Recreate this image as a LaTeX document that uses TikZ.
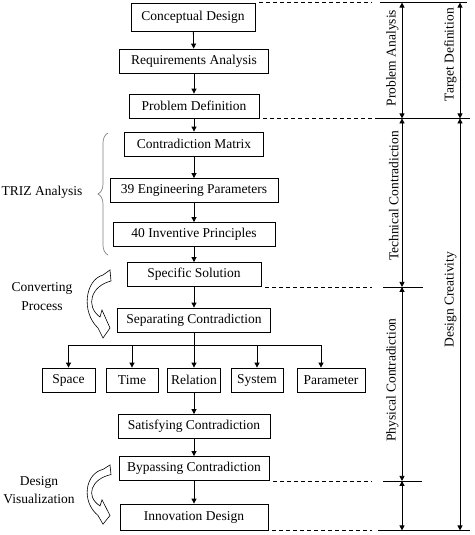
\documentclass[tikz,border=0pt]{standalone}
\usepackage{fontspec}
\setmainfont{Liberation Serif}
\usetikzlibrary{arrows.meta,decorations.pathreplacing}

\tikzset{
  turnarrow/.pic={
    \draw[line width=0.6pt,fill=white] (-6,5) -- (1,0) -- (2,11)
      .. controls (-18,16) and (-24,36) .. (-9,47) -- (-7,40) -- (1,58)
      -- (-6,68) -- (-11,58) .. controls (-28,42) and (-24,10) .. (-6,5) -- cycle;
  }
}

\begin{document}
\begin{tikzpicture}[x=1pt,y=-1pt,
  every node/.style={font=\fontsize{13.5}{16}\selectfont},
  box/.style={draw,line width=0.8pt,minimum height=24pt,inner xsep=4pt,inner ysep=2pt},
  flow/.style={line width=0.8pt,-{Triangle[length=5pt,width=5pt]}},
  span/.style={line width=0.8pt,{Triangle[length=5pt,width=5pt]}-{Triangle[length=5pt,width=5pt]}},
  guide/.style={line width=0.8pt,dash pattern=on 4pt off 3pt},
  tick/.style={line width=0.8pt},
  spanlabel/.style={rotate=90,anchor=south,inner sep=3pt}]
\useasboundingbox (0,0) rectangle (474,535);

% main column
\node[box,minimum height=28pt,minimum width=124pt] (concept) at (193,17) {Conceptual Design};
\node[box,minimum width=149pt] (req) at (194,61) {Requirements Analysis};
\node[box,minimum width=130pt] (probdef) at (194,106) {Problem Definition};
\node[box,minimum width=139pt] (matrix) at (194,144) {Contradiction Matrix};
\node[box,minimum width=168pt] (eng) at (194,190.5) {39 Engineering Parameters};
\node[box,minimum width=162pt] (inv) at (194,234.5) {40 Inventive Principles};
\node[box,minimum width=134pt] (spec) at (194,274.5) {Specific Solution};
\node[box,minimum width=153pt] (sep) at (194,320) {Separating Contradiction};

\node[box,minimum width=53pt] (space) at (68.5,380) {Space};
\node[box,minimum width=52pt] (time) at (132,380) {Time};
\node[box,minimum width=53pt] (relation) at (194,380) {Relation};
\node[box,minimum width=52pt] (system) at (257,380) {System};
\node[box,minimum width=68pt] (param) at (331,380) {Parameter};

\node[box,minimum width=152pt] (satis) at (194,426.5) {Satisfying Contradiction};
\node[box,minimum width=150pt] (bypass) at (194,468.5) {Bypassing Contradiction};
\node[box,minimum height=26pt,minimum width=148pt] (innov) at (194,517) {Innovation Design};

\draw[flow] (concept) -- (req);
\draw[flow] (req) -- (probdef);
\draw[flow] (probdef) -- (matrix);
\draw[flow] (matrix) -- (eng);
\draw[flow] (eng) -- (inv);
\draw[flow] (inv) -- (spec);
\draw[flow] (spec) -- (sep);

\coordinate (bus) at (0,345);
\draw[tick] (sep) -- (sep |- bus);
\draw[tick] (space |- bus) -- ([xshift=-10pt]param.north |- bus);
\foreach \b in {space,time,relation,system}
  \draw[flow] (\b |- bus) -- (\b);
\draw[flow] ([xshift=-10pt]param.north |- bus) -- ([xshift=-10pt]param.north);

\draw[flow] (relation) -- (satis);
\draw[flow] (satis) -- (bypass);
\draw[flow] (bypass) -- (innov);

% left side
\coordinate (braceBot) at (108,255);
\coordinate (braceTop) at (108,133);
\draw[gray,line width=0.7pt,decorate,decoration={brace,amplitude=10pt}] (braceBot) -- (braceTop);
\node (triz) at (42,192) {TRIZ Analysis};

\node[align=center,font=\fontsize{13.5}{19}\selectfont] (convert) at (42,297) {Converting\\Process};
\pic at (109,270) {turnarrow};

\node[align=center,font=\fontsize{13.5}{18}\selectfont] (visual) at (39,490) {Design\\Visualization};
\pic[yscale=0.87] at (109,465) {turnarrow};

% right side
\coordinate (colA) at (402,0);
\coordinate (colB) at (460,0);
\coordinate (dashend) at (372,0);
\foreach \lv/\nd/\anc in {0/concept/north,1/probdef/south,2/spec/south,3/bypass/south,4/innov/south}{
  \coordinate (A\lv) at (\nd.\anc -| colA);
  \coordinate (B\lv) at (\nd.\anc -| colB);
  \draw[guide] ([xshift=4pt]\nd.\anc -| \nd.east) -- (\nd.\anc -| dashend);
}

\draw[tick] ([xshift=-22pt]A0) -- ([xshift=7pt]B0);
\draw[tick] ([xshift=-27pt]A1) -- ([xshift=10pt]B1);
\draw[tick] ([xshift=-19pt]A2) -- ([xshift=21pt]A2);
\draw[tick] ([xshift=-19pt]A3) -- ([xshift=20pt]A3);
\draw[tick] ([xshift=-24pt]A4) -- ([xshift=10pt]B4);

\draw[span] (A0) -- node[spanlabel,pos=0.48] {Problem Analysis} (A1);
\draw[span] (A1) -- node[spanlabel,pos=0.46] {Technical Contradiction} (A2);
\draw[span] (A2) -- node[spanlabel,pos=0.48] {Physical Contradiction} (A3);
\draw[span] (A3) -- (A4);
\draw[span] (B0) -- node[spanlabel,pos=0.45] {Target Definition} (B1);
\draw[span] (B1) -- node[spanlabel,pos=0.44] {Design Creativity} (B4);
\end{tikzpicture}
\end{document}
